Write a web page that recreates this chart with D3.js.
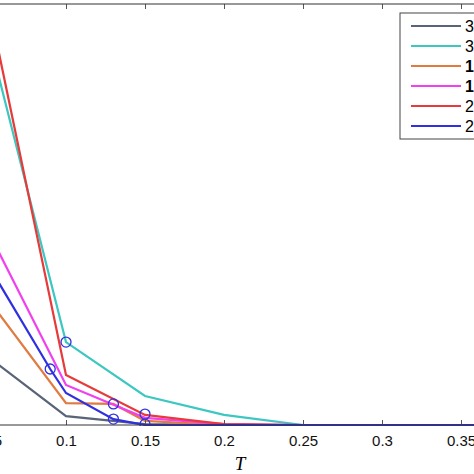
<!DOCTYPE html><html><head><script src="https://cdn.jsdelivr.net/npm/d3@7"></script>
<style>body{margin:0;background:#fff}</style></head><body><svg width="474" height="474"></svg><script>
const xVals=[0.05,0.1,0.15,0.2,0.25,0.3,0.35,0.4];
const labels=["3","3","1","1","2","2"];
const colors=["#5a6478","#3cc8c0","#e07a40","#f040f0","#e83a3a","#3030e0"];
const gray=[[0.05,0.164],[0.1,0.021],[0.15,0.002],[0.2,0],[0.25,0],[0.3,0],[0.35,0],[0.4,0]];
const cyan=[[0.05,0.938],[0.1,0.197],[0.15,0.069],[0.2,0.024],[0.25,0],[0.3,0],[0.35,0],[0.4,0]];
const orange=[[0.05,0.302],[0.1,0.052],[0.13,0.050],[0.15,0.010],[0.2,0],[0.25,0],[0.3,0],[0.35,0],[0.4,0]];
const magenta=[[0.05,0.466],[0.1,0.095],[0.15,0.017],[0.2,0.002],[0.25,0],[0.3,0],[0.35,0],[0.4,0]];
const red=[[0.05,1.02],[0.1,0.119],[0.15,0.024],[0.2,0.002],[0.25,0],[0.3,0],[0.35,0],[0.4,0]];
const blue=[[0.05,0.385],[0.09,0.133],[0.1,0.076],[0.13,0.014],[0.15,0],[0.2,0],[0.25,0],[0.3,0],[0.35,0],[0.4,0]];
const markers=[[0.1,0.197],[0.09,0.133],[0.13,0.050],[0.13,0.014],[0.15,0.026],[0.15,0.002]];
const series=[gray,cyan,orange,magenta,red,blue];
const ticks=[0.05,0.1,0.15,0.2,0.25,0.3,0.35];
const svg=d3.select("svg");
const x=d3.scaleLinear().domain([0.1,0.2]).range([66,224]);
const y=d3.scaleLinear().domain([0,1]).range([425,4]);
svg.append("clipPath").attr("id","c").append("rect").attr("x",0).attr("y",4).attr("width",474).attr("height",422);
const g=svg.append("g").attr("clip-path","url(#c)");
const line=d3.line().x(d=>x(d[0])).y(d=>y(d[1]));
series.forEach((s,i)=>g.append("path").attr("d",line(s)).attr("fill","none").attr("stroke",colors[i]).attr("stroke-width",2.2));
g.selectAll("circle").data(markers).join("circle").attr("cx",d=>x(d[0])).attr("cy",d=>y(d[1])).attr("r",5).attr("fill","none").attr("stroke","#3030e0").attr("stroke-width",1.3);
const xa=svg.append("g").attr("transform","translate(0,425)").call(d3.axisBottom(x).tickValues(ticks).tickSize(-5).tickPadding(10).tickFormat(d3.format("")));
xa.select(".domain").remove();
svg.append("line").attr("x1",0).attr("x2",474).attr("y1",425).attr("y2",425).attr("stroke","#333");
xa.selectAll("text").attr("font-family","Liberation Sans, Arial").attr("font-size",15).attr("fill","#111");
xa.selectAll("line").attr("stroke","#555");
const ta=svg.append("g").attr("transform","translate(0,4)").call(d3.axisTop(x).tickValues(ticks).tickSize(-5).tickFormat(""));
ta.select(".domain").remove();ta.selectAll("line").attr("stroke","#555");
svg.append("line").attr("x1",0).attr("x2",474).attr("y1",4).attr("y2",4).attr("stroke","#333");
svg.append("text").attr("x",240).attr("y",470).attr("text-anchor","middle").attr("font-family","Liberation Serif, Times New Roman").attr("font-style","italic").attr("font-size",19).text("T");
const lg=svg.append("g");
lg.append("rect").attr("x",400).attr("y",13).attr("width",80).attr("height",126).attr("fill","#fff").attr("stroke","#444").attr("stroke-width",1);
labels.forEach((l,i)=>{const yy=26+i*20;
lg.append("line").attr("x1",411).attr("x2",461).attr("y1",yy).attr("y2",yy).attr("stroke",colors[i]).attr("stroke-width",2.2);
lg.append("text").attr("x",465).attr("y",yy+6).attr("font-family","Liberation Sans, Arial").attr("font-size",16).attr("font-weight",(i==2||i==3)?"bold":"normal").text(l);});
</script></body></html>
